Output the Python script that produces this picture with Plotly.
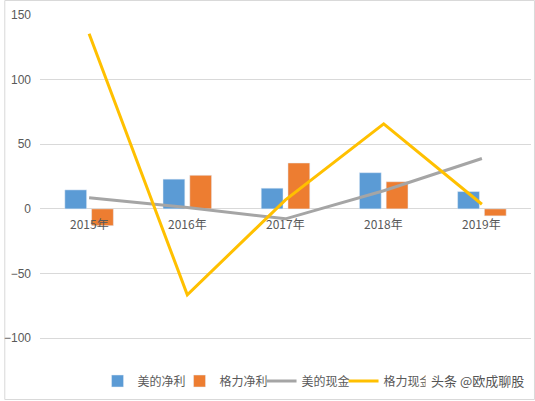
import plotly.graph_objects as go

categories = ["2015年", "2016年", "2017年", "2018年", "2019年"]
midea_profit = [14.7, 23, 16, 28, 13.4]
gree_profit = [-13, 26, 35.5, 21, -5.4]
midea_cash = [8.7, 1, -7.7, 14, 39]
gree_cash = [135.5, -66.5, 7, 65.8, 3.6]
ytick_vals = [-100, -50, 0, 50, 100, 150]

W, H = 535, 401
L, R, T, B = 36, 4, 15, 37
pw, ph = W - L - R, H - T - B

font_cn = "Noto Sans CJK SC, Liberation Sans, sans-serif"
fig = go.Figure()
fig.add_trace(go.Bar(x=categories, y=midea_profit, name="美的净利", marker_color="#5B9BD5"))
fig.add_trace(go.Bar(x=categories, y=gree_profit, name="格力净利", marker_color="#ED7D31"))
fig.add_trace(go.Scatter(x=categories, y=midea_cash, name="美的现金", mode="lines",
                         line=dict(color="#A5A5A5", width=3)))
fig.add_trace(go.Scatter(x=categories, y=gree_cash, name="格力现金", mode="lines",
                         line=dict(color="#FFC000", width=3)))

for c in categories:
    fig.add_annotation(x=c, y=0, xref="x", yref="y", text=c, showarrow=False,
                       yshift=-15, yanchor="middle",
                       font=dict(size=12, color="#595959", family=font_cn))

fig.add_annotation(x=(477 - L) / pw, y=(ph + T - 381) / ph, xref="paper", yref="paper",
                   text="头条 @欧成聊股", showarrow=False, xanchor="center", yanchor="middle",
                   font=dict(size=13, color="#555555", family=font_cn))

fig.add_shape(type="rect", xref="paper", yref="paper",
              x0=(0.5 - L) / pw, x1=(W - 0.5 - L) / pw,
              y0=(ph + T - (H - 1.5)) / ph, y1=(ph + T - 0.5) / ph,
              line=dict(color="#D9D9D9", width=1), fillcolor="rgba(0,0,0,0)", layer="below")

fig.update_layout(
    width=W, height=H,
    margin=dict(l=L, r=R, t=T, b=B),
    paper_bgcolor="white", plot_bgcolor="white",
    barmode="group", bargap=0.455, bargroupgap=0.185,
    font=dict(family=font_cn, size=12, color="#595959"),
    xaxis=dict(range=[-0.5, 4.5], showticklabels=False, showgrid=False, zeroline=False,
               showline=False, ticks=""),
    yaxis=dict(range=[-120, 150], tickvals=ytick_vals, showgrid=True, gridcolor="#D9D9D9",
               gridwidth=1, zeroline=True, zerolinecolor="#D9D9D9", zerolinewidth=1,
               showline=False, ticks="", ticklabelstandoff=8,
               tickfont=dict(size=12, color="#595959", family="Liberation Sans, sans-serif")),
    legend=dict(orientation="h", x=(94 - L) / pw, xanchor="left",
                y=(ph + T - 381) / ph, yanchor="middle",
                font=dict(size=12, color="#595959", family=font_cn),
                entrywidth=37, entrywidthmode="pixels", bgcolor="rgba(0,0,0,0)",
                itemwidth=30, traceorder="normal"),
    showlegend=True,
)

fig.write_html("out.html")
